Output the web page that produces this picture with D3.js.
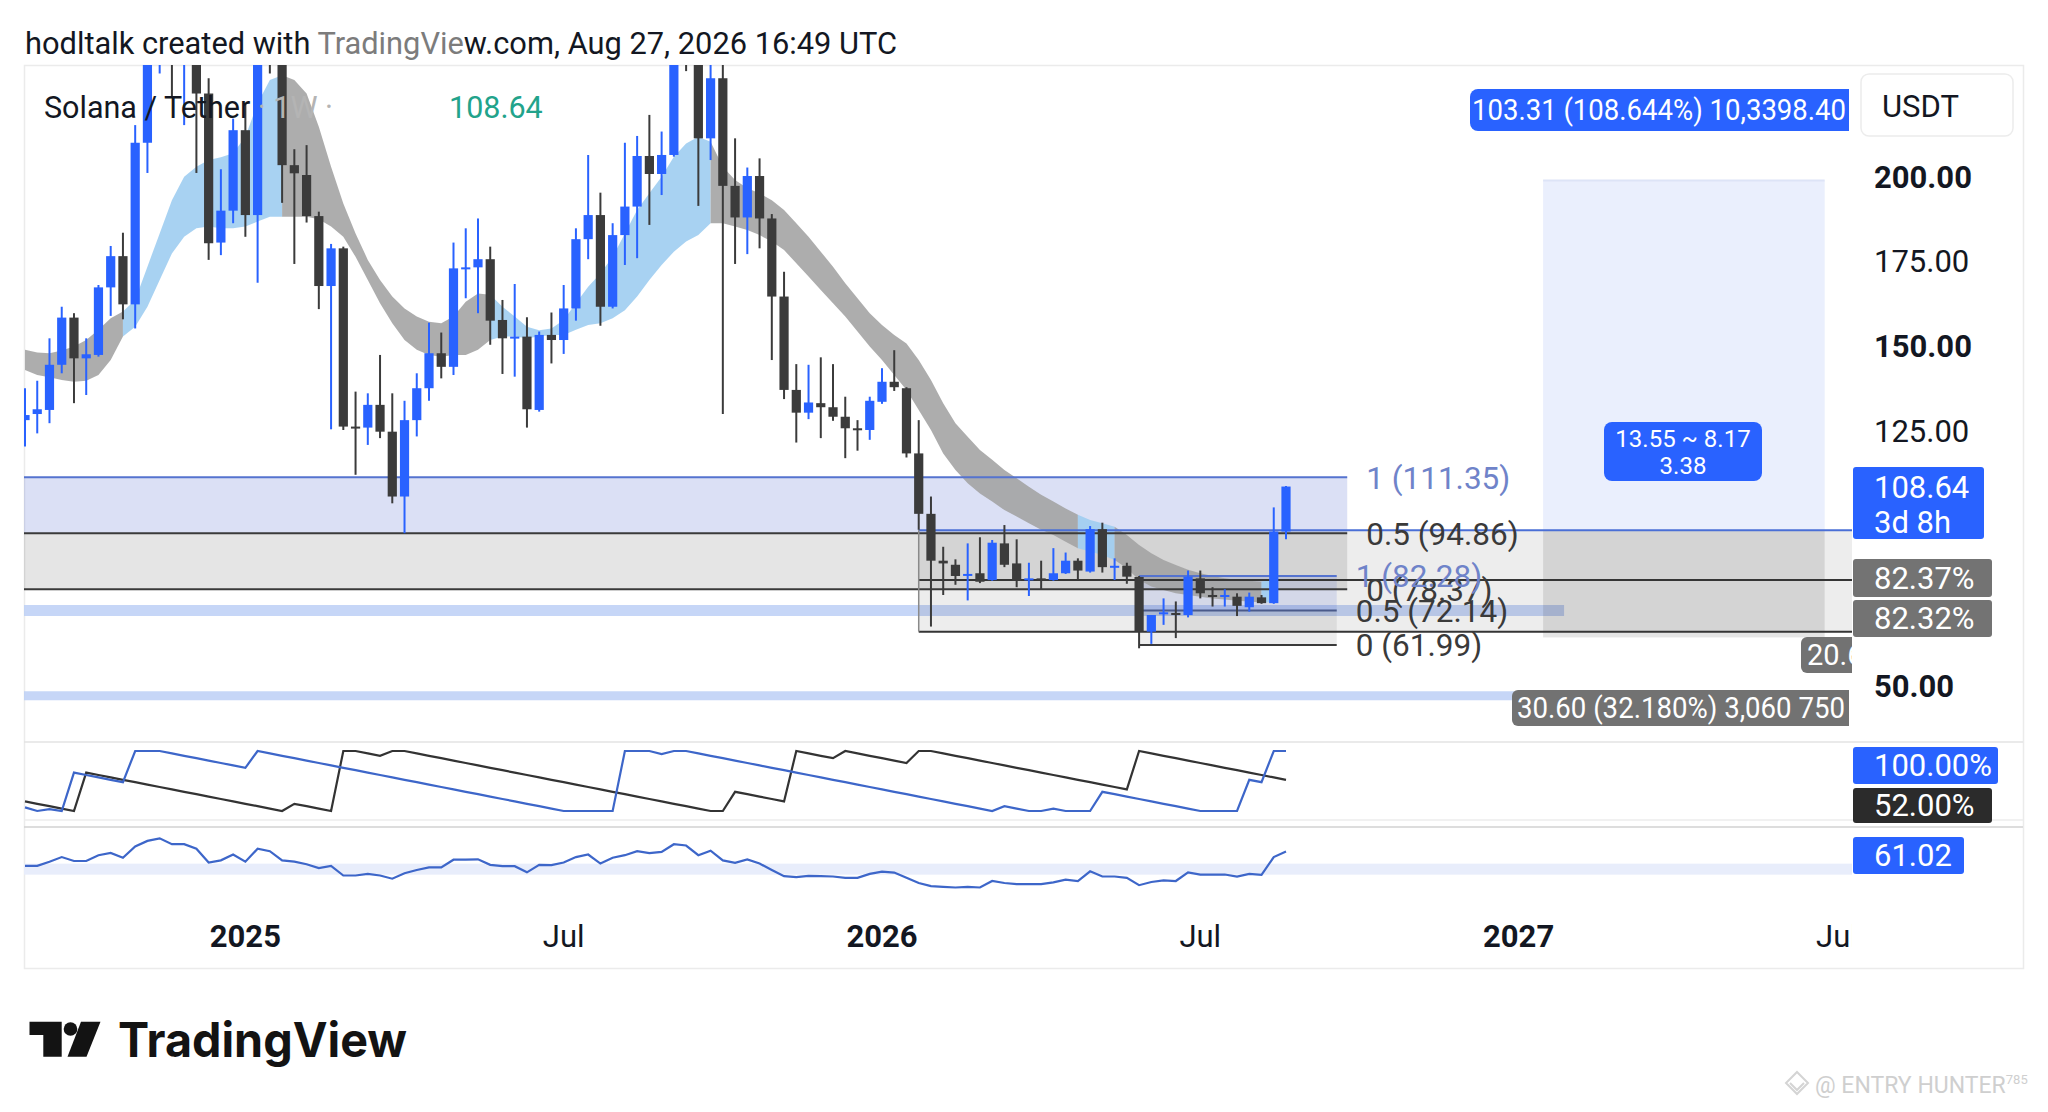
<!DOCTYPE html>
<html><head><meta charset="utf-8">
<script src="https://cdn.jsdelivr.net/npm/d3@7"></script>
<style>
html,body{margin:0;padding:0;background:#fff;}
svg{display:block;font-family:Roboto,"Noto Sans",sans-serif;}
</style></head><body>
<svg id="c" width="2048" height="1112"></svg>
<script>
// ---------- DATA ----------
// weekly candles: [week, open, high, low, close]
const candles = [
["2024-09-02",128.2,137.6,120.4,129.7],["2024-09-09",130.0,139.8,124.3,131.4],["2024-09-16",131.2,152.3,127.3,144.5],
["2024-09-23",144.5,161.6,142.0,158.4],["2024-09-30",158.4,159.7,133.2,146.4],["2024-10-07",146.4,152.3,135.6,147.6],
["2024-10-14",147.4,168.0,146.9,167.3],["2024-10-21",167.3,179.5,158.9,176.5],["2024-10-28",176.5,183.4,157.9,162.3],
["2024-11-04",162.3,215.1,155.2,209.9],["2024-11-11",209.9,248.0,201.0,240.0],["2024-11-18",240.0,264.0,230.3,256.0],
["2024-11-25",256.0,264.5,223.5,237.0],["2024-12-02",236.0,262.0,215.1,242.0],["2024-12-09",242.0,245.0,201.0,224.4],
["2024-12-16",224.4,228.9,175.4,180.3],["2024-12-23",180.5,202.1,176.8,189.9],["2024-12-30",189.9,217.0,186.2,213.6],
["2025-01-06",213.6,221.5,182.2,188.6],["2025-01-13",188.6,262.0,168.7,252.0],["2025-01-20",252.0,295.0,230.3,238.0],
["2025-01-27",238.0,250.0,192.2,203.3],["2025-02-03",203.3,208.0,174.2,200.9],["2025-02-10",200.4,209.2,186.4,188.3],
["2025-02-17",188.3,189.6,160.9,167.7],["2025-02-24",167.7,180.1,125.5,178.8],["2025-03-03",178.8,179.3,125.3,126.3],
["2025-03-10",126.3,136.6,112.1,125.8],["2025-03-17",126.0,136.1,120.9,132.7],["2025-03-24",132.7,147.4,122.9,124.8],
["2025-03-31",124.8,136.1,103.7,105.7],["2025-04-07",105.7,133.9,94.9,128.2],["2025-04-14",128.2,142.0,123.4,137.6],
["2025-04-21",137.6,156.9,133.9,147.9],["2025-04-28",147.9,154.0,140.5,143.9],["2025-05-05",143.9,180.5,141.5,172.9],
["2025-05-12",172.9,184.7,164.1,173.2],["2025-05-19",173.2,187.6,159.7,175.6],["2025-05-26",175.6,179.3,150.4,157.5],
["2025-06-02",157.7,163.6,141.8,152.3],["2025-06-09",152.3,168.3,141.0,152.8],["2025-06-16",152.8,158.5,126.0,131.4],
["2025-06-23",131.2,154.3,130.7,153.3],["2025-06-30",153.3,159.9,144.9,151.8],["2025-07-07",151.8,168.0,147.7,161.1],
["2025-07-14",161.1,184.7,157.5,181.5],["2025-07-21",181.5,206.3,175.6,188.6],["2025-07-28",188.6,195.2,156.0,161.6],
["2025-08-04",161.6,186.2,161.1,182.7],["2025-08-11",182.7,209.9,173.9,191.1],["2025-08-18",191.1,211.9,175.9,206.0],
["2025-08-25",206.0,218.1,185.7,200.7],["2025-09-01",200.7,213.2,194.5,206.3],["2025-09-08",206.3,253.0,205.8,240.0],
["2025-09-15",240.0,253.0,231.0,236.0],["2025-09-22",236.0,245.0,191.3,211.2],["2025-09-29",211.2,236.0,204.8,228.9],
["2025-10-06",228.9,234.5,130.0,197.2],["2025-10-13",197.2,211.2,174.2,187.9],["2025-10-20",187.9,202.6,177.1,200.1],
["2025-10-27",200.1,205.3,178.8,187.6],["2025-11-03",187.6,188.9,145.9,164.6],["2025-11-10",164.6,171.9,134.4,137.1],
["2025-11-17",137.1,144.7,121.6,130.4],["2025-11-24",130.4,144.5,128.5,133.4],["2025-12-01",133.2,146.7,122.9,132.0],
["2025-12-08",132.0,144.7,128.0,129.2],["2025-12-15",129.2,135.1,117.0,125.8],["2025-12-22",125.8,128.2,119.2,125.5],
["2025-12-29",125.3,135.1,122.4,133.9],["2026-01-05",133.6,143.5,133.0,139.5],["2026-01-12",139.5,148.8,136.8,137.9],
["2026-01-19",137.6,137.9,117.2,118.4],["2026-01-26",118.4,128.2,95.9,100.6],["2026-02-02",100.6,105.7,67.4,86.8],
["2026-02-09",86.8,90.9,76.7,86.0],["2026-02-16",85.6,87.2,79.7,82.3],["2026-02-23",82.5,91.9,75.1,82.9],
["2026-03-02",83.1,93.7,80.2,80.6],["2026-03-09",81.1,92.9,80.9,92.1],["2026-03-16",91.9,97.3,84.9,85.6],
["2026-03-23",86.0,93.1,79.0,80.9],["2026-03-30",81.1,86.2,76.4,81.6],["2026-04-06",81.6,86.8,78.2,81.1],
["2026-04-13",81.1,90.5,80.9,83.1],["2026-04-20",83.1,89.2,82.9,86.8],["2026-04-27",86.8,87.5,81.1,83.9],
["2026-05-04",83.6,97.0,83.3,96.1],["2026-05-11",96.1,98.0,83.3,84.9],["2026-05-18",84.9,87.5,81.1,85.3],
["2026-05-25",85.3,86.2,80.0,82.1],["2026-06-01",82.0,82.3,61.0,65.9],["2026-06-08",65.9,70.8,62.3,70.8],
["2026-06-15",71.1,75.7,67.9,71.6],["2026-06-22",71.4,74.8,64.0,71.2],["2026-06-29",70.8,83.9,70.1,82.1],
["2026-07-06",81.6,83.9,75.7,77.2],["2026-07-13",76.7,79.0,73.3,76.5],["2026-07-20",76.4,78.4,73.3,76.7],
["2026-07-27",76.2,77.2,70.5,73.5],["2026-08-03",73.1,77.4,71.8,76.2],["2026-08-10",76.0,76.7,74.1,74.3],
["2026-08-17",74.3,102.5,74.1,95.4],["2026-08-24",95.4,108.8,93.1,108.64]
];
// EMA cloud boundaries, and colour flag (1 = blue, 0 = grey)
const cloudUpper = [148.9,148.1,147.9,148.7,149.9,151.8,154.8,158.2,160.2,163.6,173.4,183.2,193.0,199.9,202.8,204.8,205.6,206.8,211.7,221.5,
228.4,229.8,228.4,224.4,214.6,202.8,192.0,183.2,175.4,169.5,164.6,161.1,158.7,157.2,156.7,158.7,163.1,165.5,165.1,161.6,
158.7,155.7,154.7,155.2,157.7,162.6,167.5,171.4,176.3,183.2,190.1,195.0,199.9,205.8,209.7,211.7,210.2,202.8,198.9,196.5,
195.0,193.0,190.1,186.2,182.2,177.8,173.4,168.5,164.1,159.7,156.2,153.3,150.8,145.9,140.0,133.2,127.3,123.3,119.4,116.5,
113.5,111.1,108.6,106.2,104.2,102.2,100.3,98.8,97.8,96.8,94.4,91.4,89.0,87.0,85.5,84.1,83.1,82.3,81.6,81.1,
80.9,80.6,81.6,null];
const cloudLower = [143.0,141.5,140.8,140.0,139.5,139.8,141.5,145.9,152.8,155.7,161.6,169.5,177.3,182.2,184.7,185.2,184.7,184.7,185.2,186.7,
188.1,188.1,188.1,188.1,187.4,185.2,182.2,176.3,169.5,162.6,156.7,151.8,148.9,147.4,146.9,147.4,147.4,148.9,151.8,152.8,
152.8,152.3,152.8,153.3,153.3,154.8,156.2,156.7,158.2,160.6,164.6,169.5,173.9,177.8,180.8,182.7,186.2,186.2,185.2,184.2,
182.7,180.8,178.3,174.4,170.5,166.5,162.6,158.7,154.3,149.9,145.9,141.5,137.1,131.2,125.3,118.4,113.5,109.6,106.6,104.2,
101.7,99.8,97.8,95.9,94.4,92.4,90.5,89.5,88.5,87.0,84.6,81.1,79.2,78.2,77.2,76.7,76.2,75.7,75.4,75.0,
74.8,74.5,74.6,null];
const cloudBlue = [0,0,0,0,0,0,0,0,0,1,1,1,1,1,1,1,1,1,1,1,1,1,0,0,0,0,0,0,0,0,0,0,0,0,0,0,0,0,0,1,
1,1,1,1,1,1,1,1,1,1,1,1,1,1,1,1,1,0,0,0,0,0,0,0,0,0,0,0,0,0,0,0,0,0,0,0,0,0,0,0,
0,0,0,0,0,0,0,1,1,1,0,0,0,0,0,0,0,0,0,0,0,0,1,1];
// Aroon pane
const aroonUp = [6,0,3,0,64,60,56,52,48,100,100,100,96,92,88,84,80,76,72,100,96,92,88,84,80,76,72,68,64,60,56,52,48,44,40,36,32,28,24,20,
16,12,8,4,0,0,0,0,0,100,100,100,95,100,100,96,92,88,84,80,76,72,68,64,60,56,52,48,44,40,36,32,28,24,20,16,12,8,4,0,
8,4,0,0,4,0,0,0,32,28,24,20,16,12,8,4,0,0,0,0,52,48,100,100];
const aroonDown = [16,12,8,4,0,64,60,56,52,48,44,40,36,32,28,24,20,16,12,8,4,0,12,8,4,0,100,100,96,92,100,100,96,92,88,84,80,76,72,68,
64,60,56,52,48,44,40,36,32,28,24,20,16,12,8,4,0,0,32,28,24,20,16,100,96,92,88,100,96,92,88,84,80,100,100,96,92,88,84,80,
76,72,68,64,60,56,52,48,44,40,36,100,96,92,88,84,80,76,72,68,64,60,56,52];
// RSI pane
const rsi = [48.0,48.0,51.8,56.0,52.4,52.4,57.7,59.8,55.4,65.7,70.7,73.0,67.7,67.7,63.6,51.0,53.0,58.3,51.8,63.6,
61.3,53.0,51.8,49.5,46.0,48.0,39.2,39.2,40.7,39.2,36.3,41.3,44.2,46.6,46.6,53.6,53.6,53.9,48.9,47.7,
47.7,42.1,48.9,48.6,51.0,56.0,58.3,50.1,55.4,57.7,61.3,59.5,60.7,67.7,66.5,57.7,61.8,53.0,50.7,53.9,
50.1,44.2,38.6,37.7,38.9,38.6,38.3,37.1,37.1,40.7,42.7,41.9,37.1,32.4,29.5,28.9,28.3,28.9,28.3,34.2,
32.4,31.3,31.3,31.3,33.0,35.4,34.2,43.0,38.3,38.3,37.1,30.4,33.3,34.8,34.2,42.1,40.1,40.1,40.1,38.3,
40.7,39.8,56.0,61.02];
const rsiBand = [40, 50];
// drawings
const fibAPrices = [111.35, 94.86, 78.37];
const fibALabels = ["1 (111.35)", "0.5 (94.86)", "0 (78.37)"];
const fibAEnd = "2026-09-28";
const fibBPrices = [82.28, 72.14, 61.99];
const fibBLabels = ["1 (82.28)", "0.5 (72.14)", "0 (61.99)"];
const fibBRange = ["2026-06-01", "2026-09-22"];
const rangeStart = "2026-01-26";
const rangePrices = [95.8, 81.1, 65.9];
const positionRange = ["2027-01-18", "2027-06-28"];
const positionPrices = [198.8, 95.8, 64.2];
const hBandPrices = [72.14, 47.0];
const hBandEnds = ["2027-01-30", "2027-01-16"];
// axes
const priceTicks = [200, 175, 150, 125, 50];
const priceTicksBold = [200, 150, 50];
const timeTicks = ["2025-01-06","2025-07-07","2026-01-05","2026-07-06","2027-01-04","2027-07-05"];
const timeLabels = ["2025","Jul","2026","Jul","2027","Jul"];
const timeBold = [true,false,true,false,true,false];
const lastPrice = 108.64;

// ---------- LAYOUT ----------
const L = 24, R = 1852, FR = 2023, TOP = 65, MB = 742, P2T = 742, P2B = 820, P3T = 827, P3B = 905, FB = 968;
const BLUE = "#2962ff", DARK = "#3b3b3b", FS = 31;
const svg = d3.select("#c");
svg.append("rect").attr("width",2048).attr("height",1112).attr("fill","#fff");
const parse = d3.utcParse("%Y-%m-%d");
const data = candles.map(d => ({t: parse(d[0]), o: d[1], h: d[2], l: d[3], c: d[4]}));

const x = d3.scaleUtc().domain([parse("2024-09-02"), parse("2026-08-24")]).range([25, 1286]);
const y = d3.scaleLinear().domain([33.4, 232.8]).range([MB, TOP]);
const yA = d3.scaleLinear().domain([0, 100]).range([811, 751]);
const yR = d3.scaleLinear().domain([0, 100]).range([918.6, 808.7]);

const defs = svg.append("defs");
function clip(id, x0, y0, w, h){ defs.append("clipPath").attr("id", id).append("rect").attr("x", x0).attr("y", y0).attr("width", w).attr("height", h); }
clip("cm", L, TOP, R-L, MB-TOP);
clip("c2", L, P2T, R-L, P2B-P2T);
clip("c3", L, P3T, R-L, P3B-P3T);
clip("ct", L, P3B, R-L, FB-P3B);

function ctext(parent, xx, yc, t, opt){
  opt = opt || {};
  return parent.append("text").attr("x", xx).attr("y", yc).attr("dy", "0.36em")
    .attr("font-size", opt.size || FS).attr("font-weight", opt.bold ? 700 : 400)
    .attr("text-anchor", opt.anchor || "start").attr("fill", opt.fill || "#131722").text(t);
}

// frame
svg.append("rect").attr("x", L+0.5).attr("y", TOP+0.5).attr("width", FR-L).attr("height", FB-TOP)
  .attr("fill","none").attr("stroke","#ebebeb").attr("stroke-width",1.5);

// header
const hdr = svg.append("text").attr("x",25).attr("y",43).attr("dy","0.36em").attr("font-size",30.8).attr("fill","#131722");
hdr.append("tspan").text("hodltalk created with ");
hdr.append("tspan").attr("fill","#7c7c7c").text("TradingVie");
hdr.append("tspan").text("w.com, Aug 27, 2026 16:49 UTC");

const g = svg.append("g").attr("clip-path","url(#cm)");

// light horizontal bands
hBandPrices.forEach((p,i) => {
  g.append("line").attr("x1", L).attr("x2", x(parse(hBandEnds[i]))).attr("y1", y(p)).attr("y2", y(p))
   .attr("stroke", "#bdd0f6").attr("stroke-width", i === 0 ? 11 : 9).attr("opacity", 0.85);
});
// fib A fills
const xA = x(parse(fibAEnd));
g.append("rect").attr("x", L).attr("width", xA-L).attr("y", y(fibAPrices[0])).attr("height", y(fibAPrices[1])-y(fibAPrices[0]))
  .attr("fill", "rgb(74,100,205)").attr("opacity", 0.2);
g.append("rect").attr("x", L).attr("width", xA-L).attr("y", y(fibAPrices[1])).attr("height", y(fibAPrices[2])-y(fibAPrices[1]))
  .attr("fill", "#000").attr("opacity", 0.1);
// range box
const xr = x(parse(rangeStart));
g.append("rect").attr("x", xr).attr("width", R-xr).attr("y", y(rangePrices[0])).attr("height", y(rangePrices[2])-y(rangePrices[0]))
  .attr("fill", "#000").attr("opacity", 0.07);
// fib B fills
const xb0 = x(parse(fibBRange[0])), xb1 = x(parse(fibBRange[1]));
g.append("rect").attr("x", xb0).attr("width", xb1-xb0).attr("y", y(fibBPrices[0])).attr("height", y(fibBPrices[1])-y(fibBPrices[0]))
  .attr("fill", "rgb(74,100,205)").attr("opacity", 0.15);
g.append("rect").attr("x", xb0).attr("width", xb1-xb0).attr("y", y(fibBPrices[1])).attr("height", y(fibBPrices[2])-y(fibBPrices[1]))
  .attr("fill", "#000").attr("opacity", 0.07);
// position tool
const xp0 = x(parse(positionRange[0])), xp1 = x(parse(positionRange[1]));
g.append("rect").attr("x", xp0).attr("width", xp1-xp0).attr("y", y(positionPrices[0])).attr("height", y(positionPrices[1])-y(positionPrices[0]))
  .attr("fill", "#eaeffd");
g.append("line").attr("x1", xp0).attr("x2", xp1).attr("y1", y(positionPrices[0])).attr("y2", y(positionPrices[0])).attr("stroke","#dde4f7").attr("stroke-width",2);
g.append("rect").attr("x", xp0).attr("width", xp1-xp0).attr("y", y(positionPrices[1])).attr("height", y(positionPrices[2])-y(positionPrices[1]))
  .attr("fill", "#000").attr("opacity", 0.1);

// cloud
const runs = [];
for (let i = 1; i < data.length; i++) {
  if (cloudUpper[i] == null || cloudUpper[i-1] == null) continue;
  const col = cloudBlue[i];
  const last = runs[runs.length-1];
  if (last && last.col === col && last.end === i-1) { last.end = i; }
  else runs.push({col, start: i-1, end: i});
}
const area = d3.area().x(i => x(data[i].t)).y0(i => y(cloudLower[i])).y1(i => y(cloudUpper[i]));
runs.forEach(r => {
  g.append("path").datum(d3.range(r.start, r.end+1)).attr("d", area)
   .attr("fill", r.col ? "#9fcdf1" : "#a2a2a2").attr("opacity", r.col ? 0.9 : 0.88);
});

// lines of drawings
function hl(x1, x2, p, col, w){ g.append("line").attr("x1",x1).attr("x2",x2).attr("y1",y(p)).attr("y2",y(p)).attr("stroke",col).attr("stroke-width",w||2); }
hl(L, xA, fibAPrices[0], "#5573cf");
hl(L, xA, fibAPrices[1], "#3a3a3a");
hl(L, xA, fibAPrices[2], "#3a3a3a");
hl(xr, R, rangePrices[0], "#4a6fd6");
hl(xr, R, rangePrices[1], "#353535");
hl(xr, R, rangePrices[2], "#353535");
g.append("line").attr("x1",xr).attr("x2",xr).attr("y1",y(rangePrices[0])).attr("y2",y(rangePrices[2])).attr("stroke","#8a8a8a").attr("stroke-width",1.5);
hl(xb0, xb1, fibBPrices[0], "#5573cf");
hl(xb0, xb1, fibBPrices[1], "#4a5a8a");
hl(xb0, xb1, fibBPrices[2], "#3a3a3a");

// candles
const cg = g.append("g");
cg.selectAll("line.w").data(data).join("line")
  .attr("x1", d => x(d.t)).attr("x2", d => x(d.t)).attr("y1", d => y(d.h)).attr("y2", d => y(d.l))
  .attr("stroke", d => d.c >= d.o ? BLUE : DARK).attr("stroke-width", 2);
cg.selectAll("rect.b").data(data).join("rect")
  .attr("x", d => x(d.t) - 4.6).attr("width", 9.2)
  .attr("y", d => y(Math.max(d.o, d.c)))
  .attr("height", d => Math.max(2, Math.abs(y(d.o) - y(d.c))))
  .attr("fill", d => d.c >= d.o ? BLUE : DARK);

// fib labels
fibALabels.forEach((t,i) => ctext(svg, xA+19, y(fibAPrices[i]), t, {size: 31.5, fill: i===0 ? "#6f83c9" : "#3a3a3a"}));
fibBLabels.forEach((t,i) => ctext(svg, xb1+19, y(fibBPrices[i]), t, {size: 31.5, fill: i===0 ? "#6f83c9" : "#3a3a3a"}));

// rounded box helper
function box(parent, x0, y0, w, h, fill, r){
  parent.append("rect").attr("x",x0).attr("y",y0).attr("width",w).attr("height",h).attr("rx",r||6).attr("fill",fill);
}
// position tool labels
box(svg, 1604, 422, 158, 59, BLUE, 8);
ctext(svg, 1683, 438, "13.55 ~ 8.17", {size: 24, anchor: "middle", fill: "#fff"});
ctext(svg, 1683, 465, "3.38", {size: 24, anchor: "middle", fill: "#fff"});
box(svg, 1470, 89, 379, 42, BLUE, 8);
svg.append("rect").attr("x",1830).attr("y",89).attr("width",19).attr("height",42).attr("fill",BLUE);
ctext(svg, 1472, 110, "103.31 (108.644%) 10,3398.40", {size: 29, fill: "#fff"}).attr("textLength",374).attr("lengthAdjust","spacingAndGlyphs");
box(svg, 1512, 690, 337, 36, "#727272", 6);
svg.append("rect").attr("x",1830).attr("y",690).attr("width",19).attr("height",36).attr("fill","#727272");
ctext(svg, 1517, 708, "30.60 (32.180%) 3,060 750", {size: 29, fill: "#fff"}).attr("textLength",328).attr("lengthAdjust","spacingAndGlyphs");
const g20 = svg.append("g").attr("clip-path","url(#cm)");
box(g20, 1801, 637, 70, 36, "#727272", 6);
ctext(g20, 1807, 655, "20.6", {size: 29, fill: "#fff"});

// legend
const lg = svg.append("text").attr("x",44).attr("y",107).attr("dy","0.36em").attr("font-size",30.5).attr("fill","#131722");
lg.append("tspan").text("Solana / Tether");
lg.append("tspan").attr("fill","#b4b4b4").text(" · 1W ·");
ctext(svg, 449, 107, d3.format(".2f")(lastPrice), {size: 30.5, fill: "#22a38b"});

// price axis
svg.append("rect").attr("x",1861).attr("y",74).attr("width",152).attr("height",62).attr("rx",8).attr("fill","#fff").attr("stroke","#ececec").attr("stroke-width",1.5);
ctext(svg, 1882, 106, "USDT");
priceTicks.forEach(p => ctext(svg, 1874, y(p), d3.format(".2f")(p), {bold: priceTicksBold.includes(p)}));
box(svg, 1853, 467, 131, 72, BLUE, 3);
ctext(svg, 1874, 487, d3.format(".2f")(lastPrice), {fill: "#fff"});
ctext(svg, 1874, 522, "3d 8h", {fill: "#fff"});
box(svg, 1853, 559, 139, 38, "#737373", 3);
ctext(svg, 1874, 578, "82.37%", {fill: "#fff"});
box(svg, 1853, 600, 139, 37, "#737373", 3);
ctext(svg, 1874, 618, "82.32%", {fill: "#fff"});

// pane separators
[[742,"#e3e3e3"],[820,"#ececec"],[827,"#d2d2d2"]].forEach(([yy,c]) =>
  svg.append("line").attr("x1",L).attr("x2",FR).attr("y1",yy).attr("y2",yy).attr("stroke",c).attr("stroke-width",1.5));

// Aroon pane
const g2 = svg.append("g").attr("clip-path","url(#c2)");
const lineA = arr => d3.line().x((d,i) => x(data[i].t)).y(d => yA(d))(arr);
g2.append("path").attr("d", lineA(aroonDown)).attr("fill","none").attr("stroke","#333").attr("stroke-width",2.2);
g2.append("path").attr("d", lineA(aroonUp)).attr("fill","none").attr("stroke","#3d66c9").attr("stroke-width",2.2);
box(svg, 1853, 747, 145, 37, BLUE, 3);
ctext(svg, 1874, 765, d3.format(".2f")(aroonUp[aroonUp.length-1]) + "%", {fill: "#fff"});
box(svg, 1853, 788, 139, 35, "#2b2b2b", 3);
ctext(svg, 1874, 805, d3.format(".2f")(aroonDown[aroonDown.length-1]) + "%", {fill: "#fff"});

// RSI pane
const g3 = svg.append("g").attr("clip-path","url(#c3)");
g3.append("rect").attr("x",L).attr("width",R-L).attr("y",yR(rsiBand[1])).attr("height",yR(rsiBand[0])-yR(rsiBand[1])).attr("fill","#e8edfb");
g3.append("path").attr("d", d3.line().x((d,i) => x(data[i].t)).y(d => yR(d))(rsi)).attr("fill","none").attr("stroke","#3d66c9").attr("stroke-width",2.2);
box(svg, 1853, 837, 111, 37, BLUE, 3);
ctext(svg, 1874, 855, d3.format(".2f")(rsi[rsi.length-1]), {fill: "#fff"});

// time axis
const gt = svg.append("g").attr("clip-path","url(#ct)");
timeTicks.forEach((d,i) => ctext(gt, x(parse(d)), 936, timeLabels[i], {anchor: "middle", bold: timeBold[i]}));

// TradingView logo
const lgo = svg.append("g").attr("fill","#131313");
lgo.append("path").attr("d","M29.5 1021.7 H61.7 V1056.7 H43.3 V1035 H29.5 Z");
lgo.append("circle").attr("cx",70.5).attr("cy",1029).attr("r",6.8);
lgo.append("path").attr("d","M81 1021.7 H100.5 L86.5 1056.7 H67.5 Z");
svg.append("text").attr("x",118).attr("y",1057).attr("font-family","Inter, Lato, sans-serif").attr("font-weight",700)
  .attr("font-size",48).attr("fill","#131313").attr("textLength",289).attr("lengthAdjust","spacingAndGlyphs").text("TradingView");

// watermark
const wm = svg.append("g").attr("fill","none").attr("stroke","#d4d4d4").attr("stroke-width",2);
wm.append("path").attr("d","M1797 1072 L1808 1083 L1797 1094 L1786 1083 Z");
wm.append("path").attr("d","M1790 1083 L1797 1090 L1804 1083");
const wt = svg.append("text").attr("x",1815).attr("y",1093).attr("font-size",23).attr("fill","#cfcfcf");
wt.append("tspan").text("@ ENTRY HUNTER");
wt.append("tspan").attr("font-size",13).attr("dy",-9).text("785");
</script></body></html>
